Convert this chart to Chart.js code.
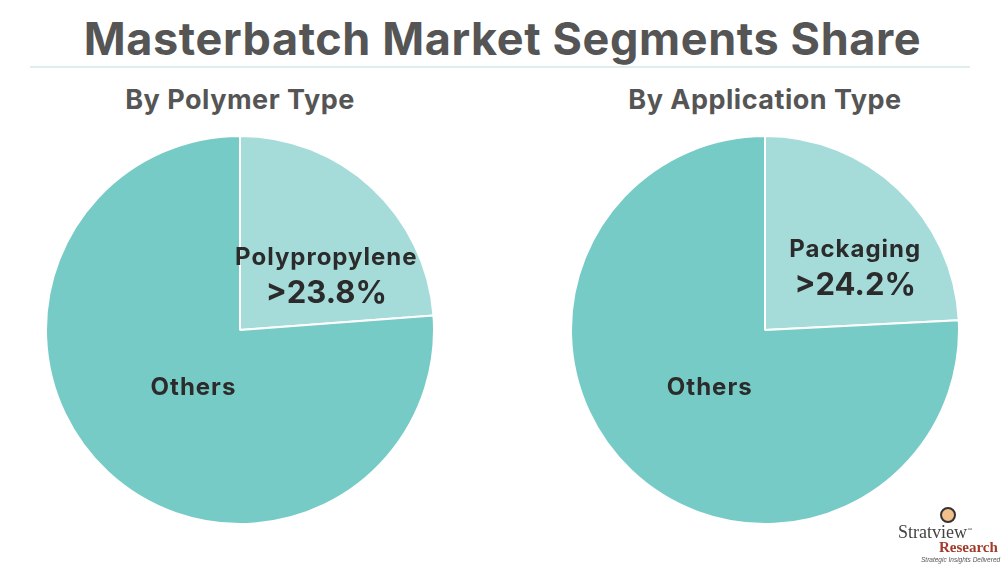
<!DOCTYPE html>
<html>
<head>
<meta charset="utf-8">
<script src="https://cdn.jsdelivr.net/npm/chart.js@4.4.1/dist/chart.umd.min.js"></script>
<style>
  body { margin:0; width:1005px; height:572px; background:#fff; position:relative; overflow:hidden; font-family:"Inter", "Open Sans", sans-serif; }
  #title { position:absolute; left:0; width:1005px; top:11px; text-align:center; font-size:45px; font-weight:700; color:#555555; letter-spacing:0.6px; }
  #rule { position:absolute; left:30px; width:940px; top:66px; height:2px; background:#dfeeed; }
  .sub { position:absolute; top:83px; width:480px; text-align:center; font-size:27px; font-weight:700; color:#555555; letter-spacing:0.5px; }
  .box { position:absolute; top:135px; width:480px; height:390px; }
  .lg { position:absolute; font-family:"Liberation Serif", serif; white-space:nowrap; }
  #lg1 { left:898px; top:522px; font-size:18px; color:#444; }
  #lg2 { left:939px; top:539px; font-size:15px; color:#a23b2a; font-weight:700; }
  #lg3 { left:921px; top:556px; font-family:"Liberation Sans", sans-serif; font-size:6.5px; font-style:italic; color:#555; }
  #lg4 { left:940px; top:507px; width:12px; height:12px; border:2px solid #333; border-radius:50%; background:#f2c08a; }
</style>
</head>
<body>
<div id="title">Masterbatch Market Segments Share</div>
<div id="rule"></div>
<div class="sub" style="left:0">By Polymer Type</div>
<div class="sub" style="left:525px">By Application Type</div>
<div class="box" style="left:0"><canvas id="polymer"></canvas></div>
<div class="box" style="left:525px"><canvas id="application"></canvas></div>
<div class="lg" id="lg4"></div>
<div class="lg" id="lg1">Stratview<sup style="font-size:5px">™</sup></div>
<div class="lg" id="lg2">Research</div>
<div class="lg" id="lg3">Strategic Insights Delivered</div>
<script>
Chart.defaults.animation = false

const polymerLabels = ['Polypropylene', 'Others']
const polymerValues = [23.8, 76.2]
const applicationLabels = ['Packaging', 'Others']
const applicationValues = [24.2, 75.8]
const sliceColors = ['#a5dcda', '#77cbc6']

// label offsets relative to pie center, as a fraction of the radius
const labelSpots = {
    polymer: [[0.445, -0.28], [-0.24, 0.30]],
    application: [[0.465, -0.32], [-0.285, 0.30]]
}

const sliceText = {
    id: 'sliceText',
    afterDatasetsDraw(chart, args, opts) {
        const ctx = chart.ctx
        const meta = chart.getDatasetMeta(0)
        const arc = meta.data[0]
        const r = arc.outerRadius
        const spots = labelSpots[opts.key]
        ctx.save()
        ctx.fillStyle = '#2b2b2b'
        ctx.textAlign = 'center'
        ctx.textBaseline = 'middle'
        chart.data.labels.forEach((lab, i) => {
            const x = arc.x + spots[i][0] * r
            const y = arc.y + spots[i][1] * r
            ctx.letterSpacing = '1px'
            ctx.font = '700 24px Inter, sans-serif'
            if (i === 0) {
                ctx.fillText(lab, x, y - 18)
                ctx.letterSpacing = '0px'
                ctx.font = '700 31px Inter, sans-serif'
                ctx.fillText('>' + chart.data.datasets[0].data[i] + '%', x, y + 18)
            } else {
                ctx.fillText(lab, x, y)
            }
        })
        ctx.restore()
    }
}

function makePie(el, key, labels, values) {
    new Chart(el, {
        type: 'pie',
        data: {
            labels: labels,
            datasets: [{
                data: values,
                backgroundColor: sliceColors,
                borderColor: '#ffffff',
                borderWidth: 2
            }]
        },
        options: {
            responsive: true,
            maintainAspectRatio: false,
            layout: { padding: 0 },
            plugins: {
                legend: { display: false },
                tooltip: { enabled: false },
                sliceText: { key: key }
            }
        },
        plugins: [sliceText]
    })
}

makePie(document.getElementById('polymer'), 'polymer', polymerLabels, polymerValues)
makePie(document.getElementById('application'), 'application', applicationLabels, applicationValues)
</script>
</body>
</html>
